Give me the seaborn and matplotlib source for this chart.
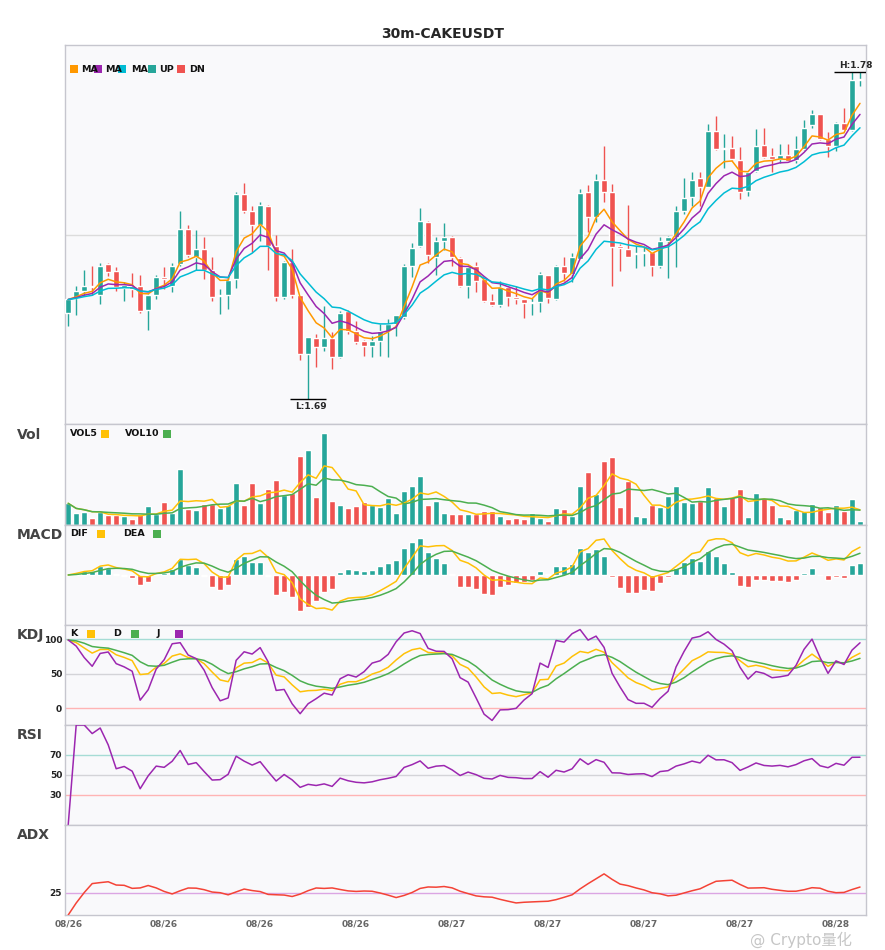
import numpy as np
import pandas as pd
import matplotlib
matplotlib.use("Agg")
import matplotlib.pyplot as plt
from matplotlib.patches import Rectangle
import seaborn as sns

# ---- data (30m candles, 100 bars) ----
symbol = "30m-CAKEUSDT"
tick_every = 12
date_labels = ["08/26", "08/26", "08/26", "08/26", "08/27", "08/27", "08/27", "08/27", "08/28"]

opens = [1.7137, 1.7177, 1.7196, 1.7210, 1.7185, 1.7272, 1.7251, 1.7206, 1.7210, 1.7210,
         1.7146, 1.7185, 1.7235, 1.7211, 1.7272, 1.7368, 1.7292, 1.7313, 1.7254, 1.7183,
         1.7185, 1.7230, 1.7463, 1.7416, 1.7378, 1.7430, 1.7321, 1.7180, 1.7276, 1.7185,
         1.7024, 1.7067, 1.7044, 1.7067, 1.7015, 1.7141, 1.7088, 1.7061, 1.7047, 1.7061,
         1.7088, 1.7107, 1.7125, 1.7265, 1.7321, 1.7386, 1.7292, 1.7334, 1.7345, 1.7289,
         1.7210, 1.7265, 1.7229, 1.7171, 1.7160, 1.7208, 1.7180, 1.7176, 1.7164, 1.7166,
         1.7240, 1.7176, 1.7267, 1.7245, 1.7286, 1.7469, 1.7400, 1.7502, 1.7469, 1.7320,
         1.7313, 1.7298, 1.7302, 1.7304, 1.7265, 1.7334, 1.7345, 1.7416, 1.7456, 1.7508,
         1.7483, 1.7637, 1.7588, 1.7591, 1.7557, 1.7472, 1.7526, 1.7598, 1.7568, 1.7559,
         1.7570, 1.7557, 1.7587, 1.7653, 1.7683, 1.7615, 1.7595, 1.7658, 1.7639, 1.7778]

highs = [1.7175, 1.7210, 1.7254, 1.7265, 1.7275, 1.7273, 1.7262, 1.7223, 1.7246, 1.7240,
         1.7188, 1.7240, 1.7262, 1.7273, 1.7417, 1.7378, 1.7366, 1.7345, 1.7290, 1.7203,
         1.7232, 1.7469, 1.7493, 1.7430, 1.7442, 1.7433, 1.7350, 1.7281, 1.7313, 1.7187,
         1.7071, 1.7079, 1.7156, 1.7085, 1.7143, 1.7145, 1.7116, 1.7062, 1.7074, 1.7107,
         1.7120, 1.7132, 1.7272, 1.7329, 1.7425, 1.7389, 1.7345, 1.7384, 1.7348, 1.7290,
         1.7270, 1.7276, 1.7233, 1.7189, 1.7224, 1.7210, 1.7212, 1.7176, 1.7179, 1.7249,
         1.7240, 1.7268, 1.7290, 1.7301, 1.7479, 1.7488, 1.7520, 1.7595, 1.7491, 1.7327,
         1.7433, 1.7322, 1.7318, 1.7304, 1.7347, 1.7348, 1.7431, 1.7508, 1.7524, 1.7524,
         1.7656, 1.7678, 1.7628, 1.7623, 1.7592, 1.7525, 1.7642, 1.7646, 1.7591, 1.7601,
         1.7601, 1.7623, 1.7667, 1.7694, 1.7684, 1.7635, 1.7662, 1.7701, 1.7800, 1.7800]

lows = [1.7100, 1.7131, 1.7185, 1.7187, 1.7161, 1.7238, 1.7198, 1.7169, 1.7180, 1.7137,
        1.7091, 1.7174, 1.7203, 1.7194, 1.7266, 1.7292, 1.7254, 1.7231, 1.7169, 1.7134,
        1.7148, 1.7205, 1.7411, 1.7304, 1.7336, 1.7256, 1.7169, 1.7176, 1.7179, 1.7007,
        1.6900, 1.6987, 1.7031, 1.6984, 1.7012, 1.7079, 1.7052, 1.7019, 1.7015, 1.7019,
        1.7015, 1.7074, 1.7120, 1.7235, 1.7318, 1.7274, 1.7240, 1.7309, 1.7265, 1.7208,
        1.7177, 1.7194, 1.7166, 1.7155, 1.7152, 1.7157, 1.7162, 1.7122, 1.7130, 1.7139,
        1.7164, 1.7173, 1.7226, 1.7221, 1.7284, 1.7359, 1.7387, 1.7442, 1.7210, 1.7252,
        1.7290, 1.7260, 1.7267, 1.7238, 1.7260, 1.7232, 1.7263, 1.7410, 1.7431, 1.7431,
        1.7482, 1.7584, 1.7535, 1.7557, 1.7451, 1.7458, 1.7524, 1.7563, 1.7524, 1.7548,
        1.7554, 1.7549, 1.7584, 1.7646, 1.7612, 1.7566, 1.7581, 1.7639, 1.7637, 1.7761]

closes = [1.7174, 1.7196, 1.7210, 1.7207, 1.7267, 1.7249, 1.7208, 1.7215, 1.7204, 1.7143,
          1.7187, 1.7235, 1.7230, 1.7267, 1.7368, 1.7295, 1.7313, 1.7254, 1.7182, 1.7185,
          1.7228, 1.7463, 1.7417, 1.7378, 1.7433, 1.7321, 1.7180, 1.7278, 1.7185, 1.7024,
          1.7070, 1.7044, 1.7067, 1.7015, 1.7138, 1.7088, 1.7058, 1.7047, 1.7061, 1.7088,
          1.7107, 1.7130, 1.7265, 1.7316, 1.7389, 1.7295, 1.7334, 1.7345, 1.7290, 1.7210,
          1.7263, 1.7226, 1.7171, 1.7160, 1.7208, 1.7180, 1.7176, 1.7164, 1.7165, 1.7243,
          1.7177, 1.7267, 1.7246, 1.7290, 1.7467, 1.7400, 1.7502, 1.7469, 1.7318, 1.7315,
          1.7292, 1.7300, 1.7303, 1.7265, 1.7334, 1.7347, 1.7416, 1.7453, 1.7502, 1.7483,
          1.7637, 1.7587, 1.7589, 1.7559, 1.7469, 1.7524, 1.7595, 1.7566, 1.7559, 1.7570,
          1.7555, 1.7587, 1.7646, 1.7683, 1.7615, 1.7595, 1.7659, 1.7641, 1.7777, 1.7779]

volumes = [64, 34, 37, 22, 37, 29, 29, 26, 19, 31,
           55, 31, 67, 35, 166, 47, 43, 61, 61, 49,
           59, 124, 58, 124, 64, 106, 133, 88, 94, 205,
           220, 82, 271, 70, 58, 49, 55, 67, 58, 53,
           79, 34, 100, 115, 145, 58, 70, 34, 31, 31,
           31, 31, 40, 40, 28, 19, 22, 19, 34, 22,
           13, 49, 46, 28, 115, 157, 91, 190, 202, 52,
           130, 28, 25, 58, 52, 85, 115, 67, 64, 70,
           112, 79, 55, 82, 106, 25, 94, 79, 58, 25,
           19, 43, 40, 61, 52, 37, 58, 40, 76, 13]

df = pd.DataFrame({"open": opens, "high": highs, "low": lows,
                   "close": closes, "vol": volumes})
df["i"] = np.arange(len(df))
n = len(df)

# ---- indicators (computed on the visible window, like the source) ----
c = df["close"]
# moving averages: EMA 5 / 8 / 13
df["ma5"] = c.ewm(span=5, adjust=False).mean()
df["ma8"] = c.ewm(span=8, adjust=False).mean()
df["ma13"] = c.ewm(span=13, adjust=False).mean()
df["vol5"] = df["vol"].rolling(5, min_periods=1).mean()
df["vol10"] = df["vol"].rolling(10, min_periods=1).mean()

# fast MACD (6, 13, 5)
df["dif"] = c.ewm(span=6, adjust=False).mean() - c.ewm(span=13, adjust=False).mean()
df["dea"] = df["dif"].ewm(span=5, adjust=False).mean()
df["hist"] = 2 * (df["dif"] - df["dea"])

lo9 = df["low"].rolling(9, min_periods=1).min()
hi9 = df["high"].rolling(9, min_periods=1).max()
rsv = (c - lo9) / (hi9 - lo9) * 100
df["k"] = rsv.ewm(com=2, adjust=False).mean()
df["d"] = df["k"].ewm(com=2, adjust=False).mean()
df["j"] = 3 * df["k"] - 2 * df["d"]

# rsi, Wilder style
a = 1 / 14
delta = c.diff()
gain = delta.clip(lower=0).ewm(alpha=a, adjust=True).mean()
loss = (-delta.clip(upper=0)).ewm(alpha=a, adjust=True).mean()
df["rsi"] = (100 * gain / (gain + loss)).fillna(0)

# adx
up_move = df["high"].diff()
dn_move = -df["low"].diff()
pdm = up_move.where((up_move > dn_move) & (up_move > 0), 0.0).fillna(0)
mdm = dn_move.where((dn_move > up_move) & (dn_move > 0), 0.0).fillna(0)
pdm_s = pdm.ewm(span=14, adjust=False).mean()
mdm_s = mdm.ewm(span=14, adjust=False).mean()
dx = (100 * (pdm_s - mdm_s).abs() / (pdm_s + mdm_s)).fillna(0)
df["adx"] = dx.ewm(span=14, adjust=False).mean()

# ---- styling ----
sns.set_theme(style="white")
plt.rcParams["font.family"] = ["DejaVu Sans", "Noto Sans CJK SC"]

UP = "#26a69a"
DN = "#ef5350"
BG = "#f9f9fb"
EDGE = "#c6c6ce"
W, H = 885, 950
LEFT, RIGHT = 65, 866

fig = plt.figure(figsize=(W / 100, H / 100), dpi=100)


def rect(top, bottom):
    return [LEFT / W, 1 - bottom / H, (RIGHT - LEFT) / W, (bottom - top) / H]


def fx(x):
    return x / W


def fy(y):
    return 1 - y / H


panels = {"main": (45, 424), "vol": (424, 525), "macd": (525, 625),
          "kdj": (625, 725), "rsi": (725, 825), "adx": (825, 915)}
axes = {}
for name, (t, b) in panels.items():
    ax = fig.add_axes(rect(t, b))
    ax.set_facecolor(BG)
    for sp in ax.spines.values():
        sp.set_color(EDGE)
        sp.set_linewidth(1)
    ax.set_xlim(-0.4, n - 0.25)
    ax.tick_params(length=0)
    ax.set_xticks([])
    ax.set_yticks([])
    axes[name] = ax

colors = np.where(df["close"] >= df["open"], UP, DN)

# main candles
ax = axes["main"]
rng = df["high"].max() - df["low"].min()
body_lo = np.minimum(df["open"], df["close"])
body_h = np.maximum((df["close"] - df["open"]).abs(), rng * 0.003)
ax.vlines(df["i"], df["low"], df["high"], colors=colors, lw=1, zorder=2)
ax.bar(df["i"], body_h, bottom=body_lo, width=0.75, color=colors, zorder=3)
for col, clr in [("ma5", "#ff9800"), ("ma8", "#9c27b0"), ("ma13", "#00bcd4")]:
    sns.lineplot(x=df["i"], y=df[col], ax=ax, color=clr, lw=1.1, zorder=4)
ylo = df["low"].min() - rng * 0.076
yhi = df["high"].max() + rng * 0.082
ax.set_ylim(ylo, yhi)
ax.axhline((ylo + yhi) / 2, color="#dcdcdc", lw=1, zorder=1)
ih = int(df["high"].idxmax())
il = int(df["low"].idxmin())
hv, lv = df["high"].max(), df["low"].min()
ax.hlines(hv, ih - 2.25, ih + 2.25, color="black", lw=1, zorder=5)
ax.text(ih + 0.5, hv + rng * 0.006, f"H:{hv:.2f}", ha="center", va="bottom",
        fontsize=6.5, fontweight="bold", clip_on=False)
ax.hlines(lv, il - 2.25, il + 2.25, color="black", lw=1, zorder=5)
ax.text(il + 0.4, lv - rng * 0.01, f"L:{lv:.2f}", ha="center", va="top",
        fontsize=6.5, fontweight="bold")

# volume
ax = axes["vol"]
ax.bar(df["i"], df["vol"], width=0.75, color=colors, zorder=2)
sns.lineplot(x=df["i"], y=df["vol5"], ax=ax, color="#ffc107", lw=1.1, zorder=3)
sns.lineplot(x=df["i"], y=df["vol10"], ax=ax, color="#4caf50", lw=1.1, zorder=3)
ax.set_ylim(0, df["vol"].max() * 1.1)

# macd
ax = axes["macd"]
hcol = np.where(df["hist"] >= 0, UP, DN)
ax.bar(df["i"], df["hist"], width=0.75, color=hcol, zorder=2)
sns.lineplot(x=df["i"], y=df["dif"], ax=ax, color="#ffc107", lw=1.1, zorder=3)
sns.lineplot(x=df["i"], y=df["dea"], ax=ax, color="#4caf50", lw=1.1, zorder=3)
m = max(df[["hist", "dif", "dea"]].abs().max()) * 1.35
ax.set_ylim(-m, m)

# kdj
ax = axes["kdj"]
for lvl, clr in [(100, "#a6dcd5"), (50, "#d4d4d8"), (0, "#ffb4b4")]:
    ax.axhline(lvl, color=clr, lw=1, zorder=1)
for col, clr in [("k", "#ffc107"), ("d", "#4caf50"), ("j", "#9c27b0")]:
    sns.lineplot(x=df["i"], y=df[col], ax=ax, color=clr, lw=1.1, zorder=3)
kmin = df[["k", "d", "j"]].min().min()
kmax = df[["k", "d", "j"]].max().max()
pad = (kmax - kmin) * 0.05
ax.set_ylim(kmin - pad, kmax + pad)
ax.set_yticks([0, 50, 100])

# rsi
ax = axes["rsi"]
for lvl, clr in [(70, "#a6dcd5"), (50, "#d4d4d8"), (30, "#ffb4b4")]:
    ax.axhline(lvl, color=clr, lw=1, zorder=1)
sns.lineplot(x=df["i"], y=df["rsi"], ax=ax, color="#9c27b0", lw=1.1, zorder=3)
ax.set_ylim(0, 100)
ax.set_yticks([30, 50, 70])

# adx
ax = axes["adx"]
ax.axhline(25, color="#dba6e3", lw=1, zorder=1)
sns.lineplot(x=df["i"], y=df["adx"], ax=ax, color="#f44336", lw=1.1, zorder=3)
ax.set_ylim(0, 100)
ax.set_yticks([25])
ax.set_xticks(list(range(0, n, tick_every)))
ax.set_xticklabels(date_labels)
ax.tick_params(axis="x", length=0, pad=3, labelsize=6.5, labelcolor="#666666")
for t in ax.get_xticklabels():
    t.set_fontweight("bold")

for name in ["kdj", "rsi", "adx"]:
    a_ = axes[name]
    a_.tick_params(axis="y", length=0, pad=2, labelsize=6.5, labelcolor="#222222")
    for t in a_.get_yticklabels():
        t.set_fontweight("bold")

for a_ in axes.values():
    a_.set_xlabel("")
    a_.set_ylabel("")

# panel names
for label, y in [("Vol", 435), ("MACD", 535), ("KDJ", 635), ("RSI", 735), ("ADX", 835)]:
    fig.text(fx(17), fy(y), label, fontsize=10, fontweight="bold", color="#444444",
             va="center", ha="left")

fig.text(0.5, fy(34), symbol, fontsize=10, fontweight="bold", ha="center", va="center")


def legend(items, y):
    for x0, kind, val in items:
        if kind == "box":
            fig.add_artist(Rectangle((fx(x0), fy(y + 4)), 8 / W, 8 / H,
                                     transform=fig.transFigure, color=val, lw=0))
        else:
            fig.text(fx(x0), fy(y), val, fontsize=6.8, fontweight="bold",
                     va="center", ha="left", color="#111111")


legend([(81, "txt", "MA"), (105, "txt", "MA"), (131, "txt", "MA"),
        (159, "txt", "UP"), (189, "txt", "DN"),
        (70, "box", "#ff9800"), (94, "box", "#9c27b0"), (118, "box", "#00bcd4"),
        (148, "box", UP), (177, "box", DN)], 69)
legend([(70, "txt", "VOL5"), (101, "box", "#ffc107"),
        (125, "txt", "VOL10"), (163, "box", "#4caf50")], 434)
legend([(70, "txt", "DIF"), (97, "box", "#ffc107"),
        (123, "txt", "DEA"), (153, "box", "#4caf50")], 534)
legend([(70, "txt", "K"), (87, "box", "#ffc107"), (113, "txt", "D"),
        (131, "box", "#4caf50"), (157, "txt", "J"), (175, "box", "#9c27b0")], 634)

# watermark, kept just below the date labels
fig.text(fx(750), fy(940), "@ Crypto量化", fontsize=11, color="#b8b8b8", alpha=0.8,
         ha="left", va="center", family=["DejaVu Sans", "Noto Sans CJK SC"])

fig.savefig("out.png", dpi=100, facecolor="white")
